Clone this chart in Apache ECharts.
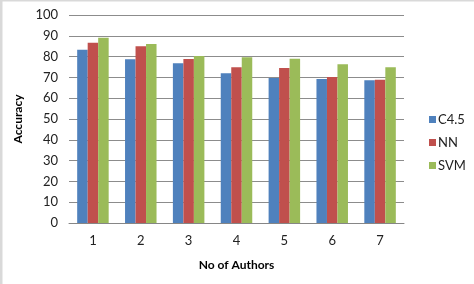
<!DOCTYPE html>
<html><head><meta charset="utf-8">
<script src="https://cdn.jsdelivr.net/npm/echarts@6/dist/echarts.min.js"></script>
<style>html,body{margin:0;padding:0;background:#fff}#c{width:474px;height:284px}</style>
</head><body><div id="c"></div>
<script>
const categories = ['1','2','3','4','5','6','7'];
const c45 = [83.3, 78.7, 76.8, 72.0, 69.7, 69.2, 68.6];
const nn = [86.7, 85.0, 78.8, 74.9, 74.5, 70.2, 68.9];
const svm = [89.1, 86.0, 80.3, 79.7, 79.0, 76.3, 74.9];
const seriesNames = ['C4.5', 'NN', 'SVM'];
const colors = ['#4f81bd', '#c0504d', '#9bbb59'];
const font = 'Lato';
const chart = echarts.init(document.getElementById('c'));
const mk = (name, data, color) => ({
  name, type: 'bar', data, barWidth: 10.5, barGap: '0%',
  itemStyle: { color }, animation: false
});
chart.setOption({
  animation: false,
  textStyle: { fontFamily: font },
  graphic: [
    { type: 'rect', shape: { x: 0, y: 0, width: 2.5, height: 284 }, style: { fill: '#d9d9d9' } },
    { type: 'rect', shape: { x: 0, y: 0, width: 474, height: 1.5 }, style: { fill: '#d9d9d9' } }
  ],
  grid: { left: 69, right: 70, top: 15, bottom: 61 },
  legend: {
    orient: 'vertical', left: 424, top: 108, itemWidth: 7, itemHeight: 7, itemGap: 10,
    icon: 'rect', data: seriesNames,
    textStyle: { fontFamily: font, fontSize: 13, color: '#222', padding: [0, 0, 0, -3] }
  },
  xAxis: {
    type: 'category', data: categories,
    name: 'No of Authors', nameLocation: 'middle', nameGap: 36,
    nameTextStyle: { fontFamily: font, fontWeight: 'bold', fontSize: 12, color: '#000' },
    axisLine: { lineStyle: { color: '#868686' } },
    axisTick: { show: false },
    axisLabel: { fontFamily: font, fontSize: 13, color: '#222', margin: 11 }
  },
  yAxis: {
    type: 'value', min: 0, max: 100, interval: 10,
    name: 'Accuracy', nameLocation: 'middle', nameGap: 38,
    nameTextStyle: { fontFamily: font, fontWeight: 'bold', fontSize: 12, color: '#000' },
    axisLine: { show: false }, axisTick: { show: false },
    splitLine: { lineStyle: { color: '#8c8c8c', width: 1 } },
    axisLabel: { fontFamily: font, fontSize: 13, color: '#222', margin: 11 }
  },
  series: [mk(seriesNames[0], c45, colors[0]), mk(seriesNames[1], nn, colors[1]), mk(seriesNames[2], svm, colors[2])]
});
</script></body></html>
